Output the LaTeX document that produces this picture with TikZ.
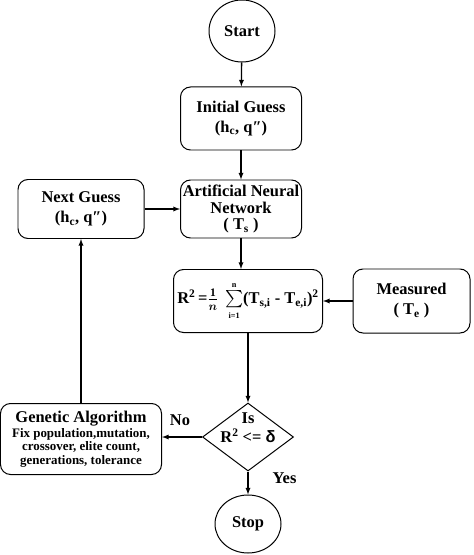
\documentclass[tikz,border=0pt]{standalone}
\usepackage{amsmath}
\usepackage{fontspec}
\setmainfont{Liberation Serif}
\newfontfamily\deltafont{Liberation Sans}
\usetikzlibrary{shapes.geometric}

\begin{document}
\begin{tikzpicture}[x=1bp,y=-1bp,
    box/.style={draw,line width=1pt,rounded corners=10bp,inner sep=0pt,align=center,
      font=\fontsize{16.5}{20}\bfseries\selectfont},
    term/.style={draw,line width=1pt,ellipse,inner sep=0pt,minimum width=66bp,
      font=\fontsize{16.5}{20}\bfseries\selectfont},
    decision/.style={draw,diamond,line width=1pt,minimum width=91bp,minimum height=68bp,inner sep=0pt},
    lbl/.style={inner sep=0pt,font=\fontsize{16.5}{20}\bfseries\selectfont},
    flow/.style={->,>=latex,line width=1.3pt}]
    \useasboundingbox (0,0) rectangle (474,555);
    % main column
    \node[term,minimum height=62bp] (start) at (242,31) {Start};
    \node[box,minimum width=121bp,minimum height=63bp] (init) at (241,118.5) {Initial Guess\\(h\textsubscript{c}, q″)};
    \node[box,minimum width=121bp,minimum height=58bp,font=\fontsize{16.5}{17}\bfseries\selectfont] (ann) at (241,209) {Artificial Neural\\Network\\( T\textsubscript{s} )};
    \node[box,minimum width=149bp,minimum height=63bp,font=\fontsize{16.5}{20}\bfseries\boldmath\selectfont] (err) at (248,301)
      {R\textsuperscript{2}\,=$\frac{\textbf{1}}{n}\,\sum\limits_{\scriptscriptstyle\textbf{i=1}}^{\scriptscriptstyle\textbf{n}}$(T\textsubscript{s,i} - T\textsubscript{e,i})\textsuperscript{2}};
    \node[decision] (test) at (248,437) {};
    \node[lbl,align=center,font=\fontsize{16.5}{19}\bfseries\selectfont] (testtext) at (248,428) {Is\\R\textsuperscript{2} <= {\deltafont δ}};
    \node[term,minimum height=58bp] (stop) at (248,524) {Stop};
    % side boxes
    \node[box,minimum width=126bp,minimum height=59bp] (next) at (81,209) {Next Guess\\(h\textsubscript{c}, q″)};
    \node[box,minimum width=117bp,minimum height=64bp] (meas) at (411.5,301) {Measured\\( T\textsubscript{e} )};
    \node[box,minimum width=161bp,minimum height=71bp] (ga) at (81,439)
      {Genetic Algorithm\\[-5bp]{\fontsize{13}{13.5}\selectfont Fix population,mutation,}\\[-6.5bp]
       {\fontsize{13}{13.5}\selectfont crossover, elite count,}\\[-6.5bp]
       {\fontsize{13}{13.5}\selectfont generations, tolerance}};
    % connectors
    \draw[flow] (start) -- (init);
    \draw[flow] (init) -- (ann);
    \draw[flow] (ann) -- (ann |- err.north);
    \draw[flow] (err) -- (test);
    \draw[flow] (test) -- (stop) node[lbl,pos=.3,right=24bp] {Yes};
    \draw[flow] (meas) -- (err);
    \draw[flow] (next) -- (ann);
    \draw[flow] (test) -- (test -| ga.east) node[lbl,pos=.55,above=11bp] {No};
    \draw[flow] (ga) -- (next);
\end{tikzpicture}
\end{document}
